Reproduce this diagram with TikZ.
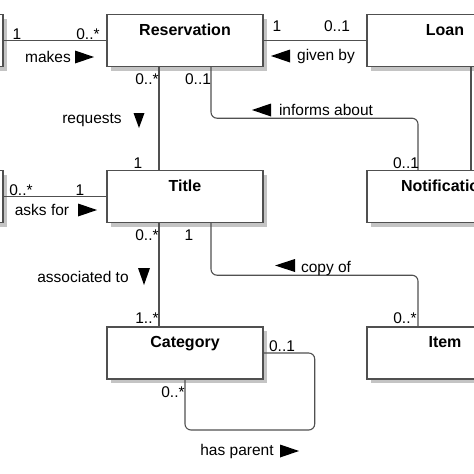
\documentclass[tikz,border=0pt]{standalone}
\usepackage{fontspec}
\setmainfont{Liberation Sans}
\usetikzlibrary{shadows}
\definecolor{linegray}{HTML}{505050}
\definecolor{shadowgray}{HTML}{C4C4C4}
\newcommand{\labelfont}{\fontsize{15.5}{18}\selectfont}
\newcommand{\classfont}{\fontsize{16}{19}\selectfont\bfseries}
\begin{document}
\begin{tikzpicture}[x=1pt,y=-1pt,
    class/.style={draw=linegray,line width=1.4pt,fill=white,
      minimum width=156pt,minimum height=52pt,inner sep=0pt,
      drop shadow={shadow xshift=4pt,shadow yshift=-4pt,fill=shadowgray,opacity=1}},
    title/.style={label={[font=\classfont,anchor=north,inner sep=0pt,yshift=-10pt]north:#1}},
    mult/.style={font=\labelfont,inner sep=0pt},
    assoc/.style={draw=linegray,line width=1.1pt,rounded corners=6pt}]
  \useasboundingbox (0,0) rectangle (474,474);
  \clip (0,0) rectangle (474,474);
  % classes
  \path
    (-75,40.5) node[class] (borrower){}
    (185,40.5) node[class,title=Reservation] (reservation){}
    (445,40.5) node[class,title=Loan] (loan){}
    (-75,196.5) node[class] (member){}
    (185,196.5) node[class,title=Title] (title){}
    (445,196.5) node[class,title=Notification] (notification){}
    (185,353) node[class,title=Category] (category){}
    (445,353) node[class,title=Item] (item){};
  % associations
  \begin{scope}[assoc]
    \draw (borrower) -- (reservation);
    \draw (reservation) -- (loan);
    \draw ([xshift=-26pt]reservation.south) -- ([xshift=-26pt]title.north);
    \draw ([xshift=26pt]reservation.south) -- ++(0,51) -| ([xshift=-27pt]notification.north);
    \draw ([xshift=26pt]loan.south) -- ([xshift=26pt]notification.north);
    \draw (member) -- (title);
    \draw ([xshift=-26pt]title.south) -- ([xshift=-26pt]category.north);
    \draw ([xshift=26pt]title.south) -- ++(0,52) -| ([xshift=-27pt]item.north);
    \draw (category.east) -- ++(51,0) -- ++(0,77) -| (category.south);
  \end{scope}
  % multiplicities
  \path[mult]
    (17,34) node (m1){1}
    (88,34) node (m2){0..*}
    (277,26) node (m3){1}
    (337,26) node (m4){0..1}
    (147,79) node (m5){0..*}
    (198,79) node (m6){0..1}
    (138,163) node (m7){1}
    (406,163) node (m8){0..1}
    (21,190) node (m9){0..*}
    (80,190) node (m10){1}
    (147,235) node (m11){0..*}
    (189,235) node (m12){1}
    (147,318) node (m13){1..*}
    (405,318) node (m14){0..*}
    (282,346) node (m15){0..1}
    (173,392) node (m16){0..*};
  % role names
  \path[mult]
    (48,57) node (makes){makes}
    (326,56) node (givenby){given by}
    (92,120) node (requests){requests}
    (326,110) node (informs){informs about}
    (42,210) node (asksfor){asks for}
    (83,277) node (assocto){associated to}
    (326,268) node (copyof){copy of}
    (237,451) node (hasparent){has parent};
  % reading directions
  \fill (75,50.5) -- (94,57) -- (75,63.5) -- cycle;
  \fill (290,49.5) -- (271,56) -- (290,62.5) -- cycle;
  \fill (133.5,113) -- (144.5,113) -- (139,128) -- cycle;
  \fill (271,103.5) -- (252,110) -- (271,116.5) -- cycle;
  \fill (78,203.5) -- (97,210) -- (78,216.5) -- cycle;
  \fill (138,268) -- (150,268) -- (144,285) -- cycle;
  \fill (295,259) -- (275,265.5) -- (295,272) -- cycle;
  \fill (280,444.5) -- (299,451) -- (280,457.5) -- cycle;
\end{tikzpicture}
\end{document}
